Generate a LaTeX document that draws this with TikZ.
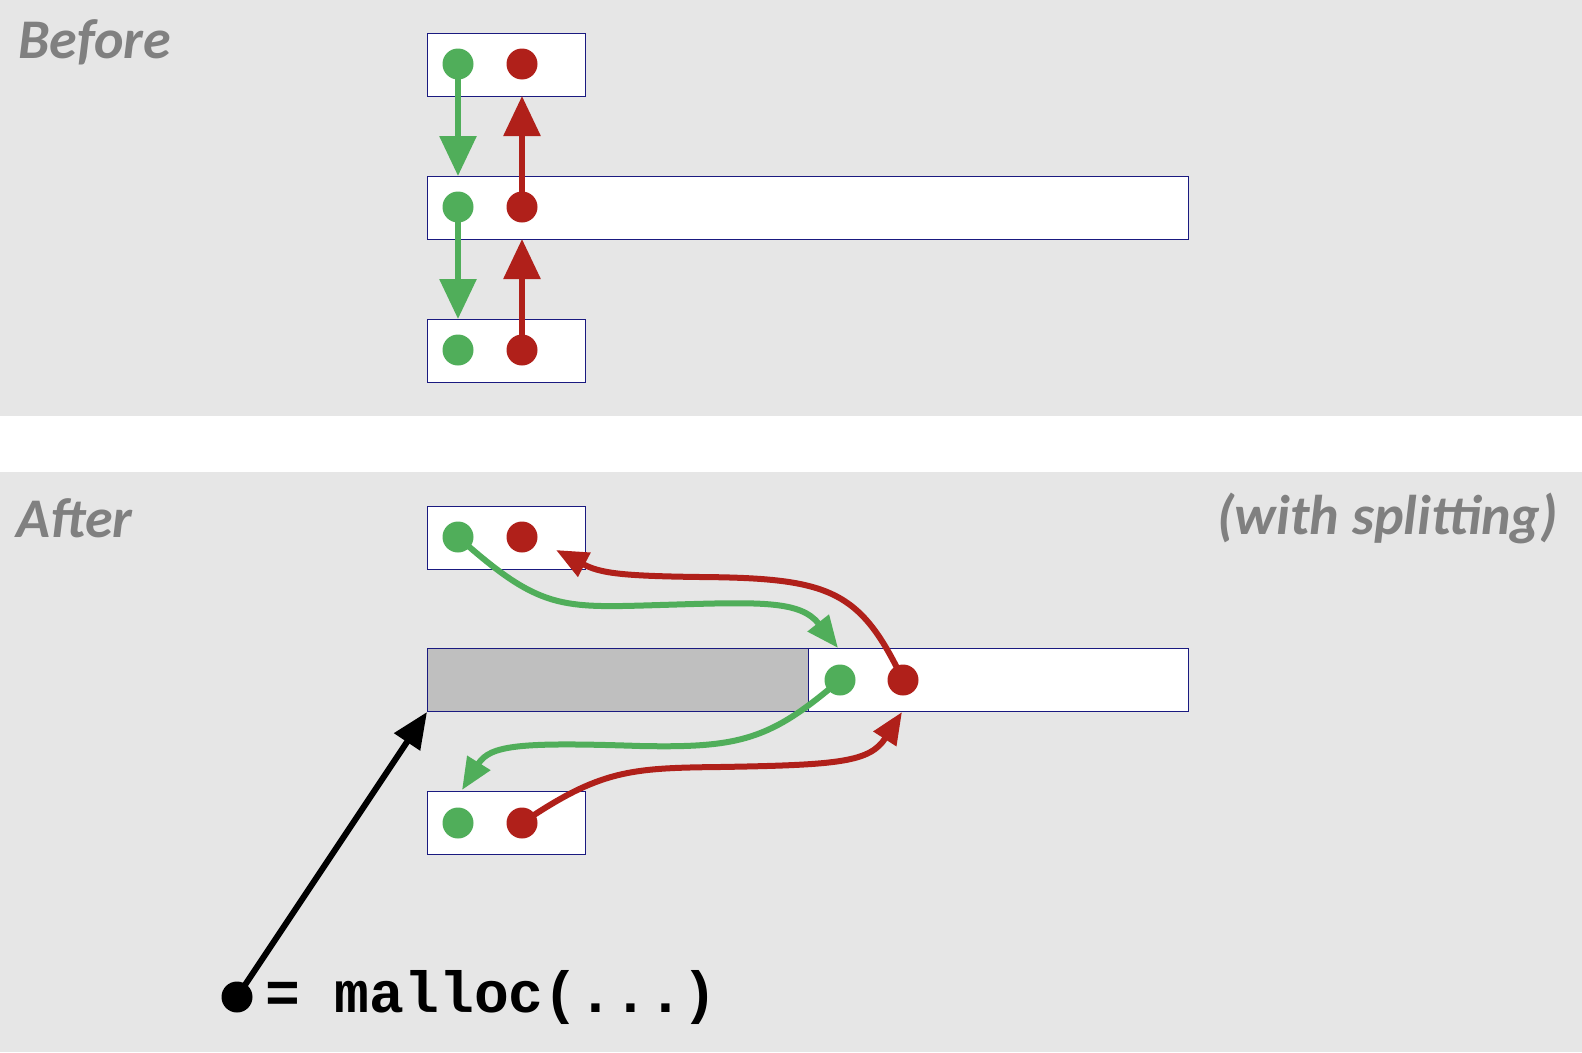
\documentclass[tikz,border=0pt]{standalone}
\usepackage{fontspec}
\setmainfont{Carlito}
\newfontfamily\monof{Liberation Mono}
\usetikzlibrary{arrows.meta}
\definecolor{bg}{HTML}{E6E6E6}
\definecolor{gr}{HTML}{50AE5A}
\definecolor{rd}{HTML}{B0201A}
\definecolor{lab}{HTML}{808080}
\definecolor{bl}{HTML}{1A1A80}
\tikzset{
 blk/.style={draw=bl,line width=1pt,fill=white},
 gdot/.style={circle,fill=gr,minimum size=31pt,inner sep=0pt},
 rdot/.style={circle,fill=rd,minimum size=31pt,inner sep=0pt},
 bigarr/.style={line width=6pt,-{Triangle[length=40pt,width=36pt]}},
 carr/.style={line width=6pt,-{Triangle[length=32pt,width=26pt]}},
 lbl/.style={font=\fontsize{56}{60}\selectfont\bfseries\itshape,text=lab,inner sep=0pt}
}
\begin{document}
\begin{tikzpicture}[x=1pt,y=-1pt]
\useasboundingbox (0,0) rectangle (1582,1052);
\fill[bg] (0,0) rectangle (1582,416);
\fill[bg] (0,472) rectangle (1582,1052);
\node[lbl,anchor=west] (before) at (18,42) {Before};
\node[lbl,anchor=west] (after) at (16,518) {After};
\node[lbl,anchor=east] (split) at (1558,518) {(with splitting)};
% before
\node[blk,minimum width=158pt,minimum height=63pt,anchor=north west] (b1) at (427,33) {};
\node[blk,minimum width=761pt,minimum height=63pt,anchor=north west] (b2) at (427,176) {};
\node[blk,minimum width=158pt,minimum height=63pt,anchor=north west] (b3) at (427,319) {};
\node[gdot] (g1) at (458,64) {}; \node[rdot] (r1) at (522,64) {};
\node[gdot] (g2) at (458,207) {}; \node[rdot] (r2) at (522,207) {};
\node[gdot] (g3) at (458,350) {}; \node[rdot] (r3) at (522,350) {};
\coordinate (t1) at (458,176); \coordinate (t2) at (522,96);
\coordinate (t3) at (458,319); \coordinate (t4) at (522,239);
\draw[bigarr,gr] (g1.center) -- (t1);
\draw[bigarr,rd] (r2.center) -- (t2);
\draw[bigarr,gr] (g2.center) -- (t3);
\draw[bigarr,rd] (r3.center) -- (t4);
% after
\node[blk,minimum width=158pt,minimum height=63pt,anchor=north west] (a1) at (427,506) {};
\node[blk,minimum width=761pt,minimum height=63pt,anchor=north west] (a2) at (427,648) {};
\node[draw=bl,line width=1pt,fill=gray!50,minimum width=381pt,minimum height=63pt,anchor=north west] (a2g) at (427,648) {};
\node[blk,minimum width=158pt,minimum height=63pt,anchor=north west] (a3) at (427,791) {};
\node[gdot] (ag1) at (458,537) {}; \node[rdot] (ar1) at (522,537) {};
\node[gdot] (ag2) at (840,680) {}; \node[rdot] (ar2) at (903,680) {};
\node[gdot] (ag3) at (458,823) {}; \node[rdot] (ar3) at (522,823) {};
\coordinate (u1) at (838,648); \coordinate (u2) at (556,550);
\coordinate (u3) at (462,790); \coordinate (u4) at (902,712);
\draw[carr,gr] (ag1.center) .. controls (540,610) and (560,608) .. (660,605) .. controls (760,602) and (800,600) .. (u1);
\draw[carr,rd] (ar2.center) .. controls (860,590) and (830,578) .. (700,577) .. controls (620,576) and (600,573) .. (u2);
\draw[carr,gr] (ag2.center) .. controls (770,740) and (740,748) .. (640,746) .. controls (520,742) and (490,745) .. (u3);
\draw[carr,rd] (ar3.center) .. controls (600,770) and (630,768) .. (720,767) .. controls (840,765) and (870,762) .. (u4);
% malloc
\node[circle,fill=black,minimum size=31pt,inner sep=0pt] (m) at (237,997) {};
\coordinate (mt) at (427,712);
\draw[line width=6pt,-{Triangle[length=36pt,width=30pt]}] (m.center) -- (mt);
\node[anchor=west,inner sep=0pt,font=\monof\bfseries\fontsize{58}{60}\selectfont] (code) at (265,997) {= malloc(...)};
\end{tikzpicture}
\end{document}
